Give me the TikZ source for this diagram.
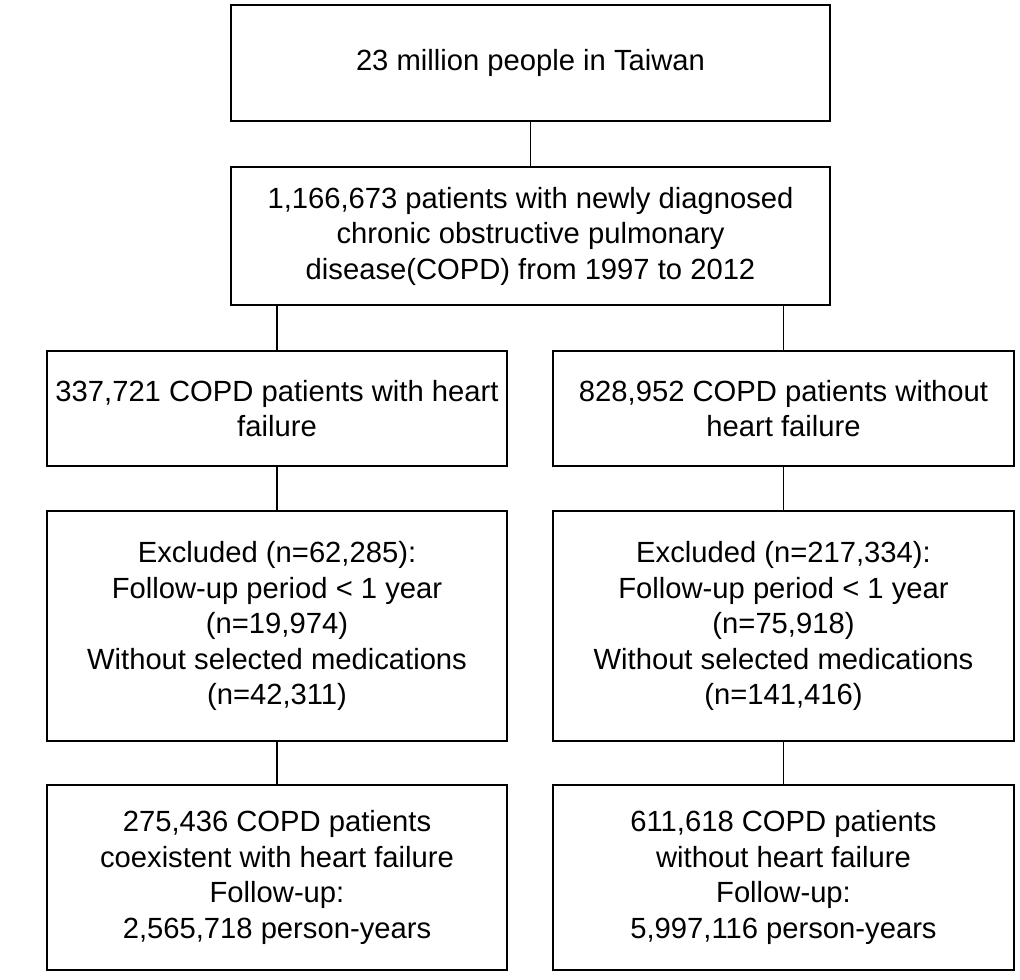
\documentclass[tikz,border=0pt]{standalone}
\usepackage{fontspec}
\setmainfont{Liberation Sans}
\begin{document}
\begin{tikzpicture}[x=0.5pt,y=-0.5pt,
  box/.style={draw,line width=1pt,align=center,inner sep=0pt,font=\fontsize{14.6}{17.75}\selectfont},
  link/.style={line width=0.9pt}]
\useasboundingbox (0,0) rectangle (1020,979);
\node[box,minimum width=299.5pt,minimum height=58pt] (pop) at (530.5,63) {23 million people in Taiwan};
\node[box,minimum width=299.5pt,minimum height=69pt] (copd) at (530.5,236) {1,166,673 patients with newly diagnosed\\ chronic obstructive pulmonary\\ disease(COPD) from 1997 to 2012};
\node[box,minimum width=230pt,minimum height=57.5pt] (hf) at (277,408.5) {337,721 COPD patients with heart\\ failure};
\node[box,minimum width=230.5pt,minimum height=57.5pt] (nohf) at (783.5,408.5) {828,952 COPD patients without\\ heart failure};
\node[box,minimum width=230pt,minimum height=115pt] (exhf) at (277,626) {Excluded (n=62,285):\\ Follow-up period < 1 year\\ (n=19,974)\\ Without selected medications\\ (n=42,311)};
\node[box,minimum width=230.5pt,minimum height=115pt] (exnohf) at (783.5,626) {Excluded (n=217,334):\\ Follow-up period < 1 year\\ (n=75,918)\\ Without selected medications\\ (n=141,416)};
\node[box,minimum width=230pt,minimum height=92.5pt] (endhf) at (277,877.5) {275,436 COPD patients\\ coexistent with heart failure\\ Follow-up:\\ 2,565,718 person-years};
\node[box,minimum width=230.5pt,minimum height=92.5pt] (endnohf) at (783.5,877.5) {611,618 COPD patients\\ without heart failure\\ Follow-up:\\ 5,997,116 person-years};
% connectors
\draw[link] (pop) -- (copd);
\draw[link] (copd.south -| hf) -- (hf);
\draw[link] (copd.south -| nohf) -- (nohf);
\draw[link] (hf) -- (exhf);
\draw[link] (nohf) -- (exnohf);
\draw[link] (exhf) -- (endhf);
\draw[link] (exnohf) -- (endnohf);
\end{tikzpicture}
\end{document}
